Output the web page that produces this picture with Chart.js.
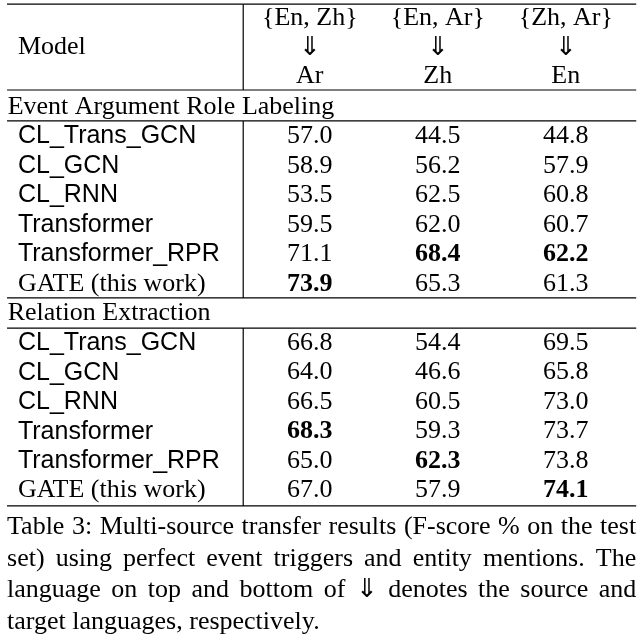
<!DOCTYPE html>
<html><head><meta charset="utf-8">
<script src="https://cdn.jsdelivr.net/npm/chart.js@4"></script>
<style>body{margin:0;background:#fff}</style>
</head><body>
<canvas id="c" width="643" height="634"></canvas>
<script>
const columns = ['{En, Zh}', '{En, Ar}', '{Zh, Ar}'];
const targets = ['Ar', 'Zh', 'En'];
const models = ['CL_Trans_GCN', 'CL_GCN', 'CL_RNN', 'Transformer', 'Transformer_RPR', 'GATE (this work)'];
const sectionTitles = ['Event Argument Role Labeling', 'Relation Extraction'];
const earlValues = [
  [57.0, 44.5, 44.8], [58.9, 56.2, 57.9], [53.5, 62.5, 60.8],
  [59.5, 62.0, 60.7], [71.1, 68.4, 62.2], [73.9, 65.3, 61.3]
];
const reValues = [
  [66.8, 54.4, 69.5], [64.0, 46.6, 65.8], [66.5, 60.5, 73.0],
  [68.3, 59.3, 73.7], [65.0, 62.3, 73.8], [67.0, 57.9, 74.1]
];
const earlBold = [[4,1],[4,2],[5,0]];
const reBold = [[3,0],[4,1],[5,2]];
const caption = [
  'Table 3: Multi-source transfer results (F-score % on the test',
  'set) using perfect event triggers and entity mentions. The',
  'language on top and bottom of \u21d3 denotes the source and',
  'target languages, respectively.'
];

const serif = '"Liberation Serif", "Times New Roman", serif';
const sans = '"Liberation Sans", Arial, sans-serif';
const FS = '26px ';

const tablePlugin = {
  id: 'table',
  afterDraw(chart) {
    const ctx = chart.ctx, X = chart.scales.x, Y = chart.scales.y;
    const px = v => X.getPixelForValue(v), py = v => Y.getPixelForValue(v);
    ctx.save();
    ctx.fillStyle = '#000'; ctx.strokeStyle = '#000'; ctx.lineWidth = 1.2;
    ctx.textBaseline = 'middle';
    const hline = y => { ctx.beginPath(); ctx.moveTo(px(-1.365), py(y)); ctx.lineTo(px(3.55), py(y)); ctx.stroke(); };
    [0.14, 3.05, 4.1, 10.1, 11.12, 17.15].forEach(hline);
    [[0.14, 3.05], [4.1, 10.1], [11.12, 17.15]].forEach(s => {
      ctx.beginPath(); ctx.moveTo(px(0.48), py(s[0])); ctx.lineTo(px(0.48), py(s[1])); ctx.stroke();
    });

    ctx.font = FS + serif; ctx.textAlign = 'left';
    ctx.fillText('Model', px(-1.28), py(1.6));
    ctx.textAlign = 'center';
    columns.forEach((c, i) => {
      ctx.fillText(c, px(i + 1), py(0.61));
      ctx.fillText('\u21d3', px(i + 1), py(1.63));
      ctx.fillText(targets[i], px(i + 1), py(2.58));
    });

    const section = (title, y0, vals, bold) => {
      ctx.textAlign = 'left'; ctx.font = FS + serif;
      ctx.fillText(title, px(-1.36), py(y0));
      models.forEach((m, r) => {
        const y = y0 + 1.0 + r;
        ctx.textAlign = 'left';
        ctx.font = m.startsWith('GATE') ? FS + serif : '25px ' + sans;
        ctx.fillText(m, px(-1.28), py(y));
        ctx.textAlign = 'center';
        vals[r].forEach((v, c) => {
          const b = bold.some(p => p[0] === r && p[1] === c);
          ctx.font = (b ? 'bold ' : '') + FS + serif;
          ctx.fillText(v.toFixed(1), px(c + 1), py(y));
        });
      });
    };
    section(sectionTitles[0], 3.63, earlValues, earlBold);
    section(sectionTitles[1], 10.63, reValues, reBold);

    ctx.font = FS + serif; ctx.textAlign = 'left';
    const left = px(-1.365), right = px(3.55);
    caption.forEach((line, i) => {
      const y = py(17.87 + i * 1.07);
      if (i === caption.length - 1) { ctx.fillText(line, left, y); return; }
      const words = line.split(' ');
      const w = words.reduce((s, t) => s + ctx.measureText(t).width, 0);
      const gap = (right - left - w) / (words.length - 1);
      let x = left;
      words.forEach(t => { ctx.fillText(t, x, y); x += ctx.measureText(t).width + gap; });
    });
    ctx.restore();
  }
};

new Chart(document.getElementById('c'), {
  type: 'scatter',
  data: { datasets: [{ data: [] }] },
  options: {
    responsive: false, animation: false, devicePixelRatio: 1,
    layout: { padding: 0 },
    plugins: { legend: { display: false }, tooltip: { enabled: false } },
    scales: {
      x: { type: 'linear', min: -1.42, max: 3.603, display: false },
      y: { type: 'linear', min: 0, max: 21.49, reverse: true, display: false }
    }
  },
  plugins: [tablePlugin]
});
</script>
</body></html>
